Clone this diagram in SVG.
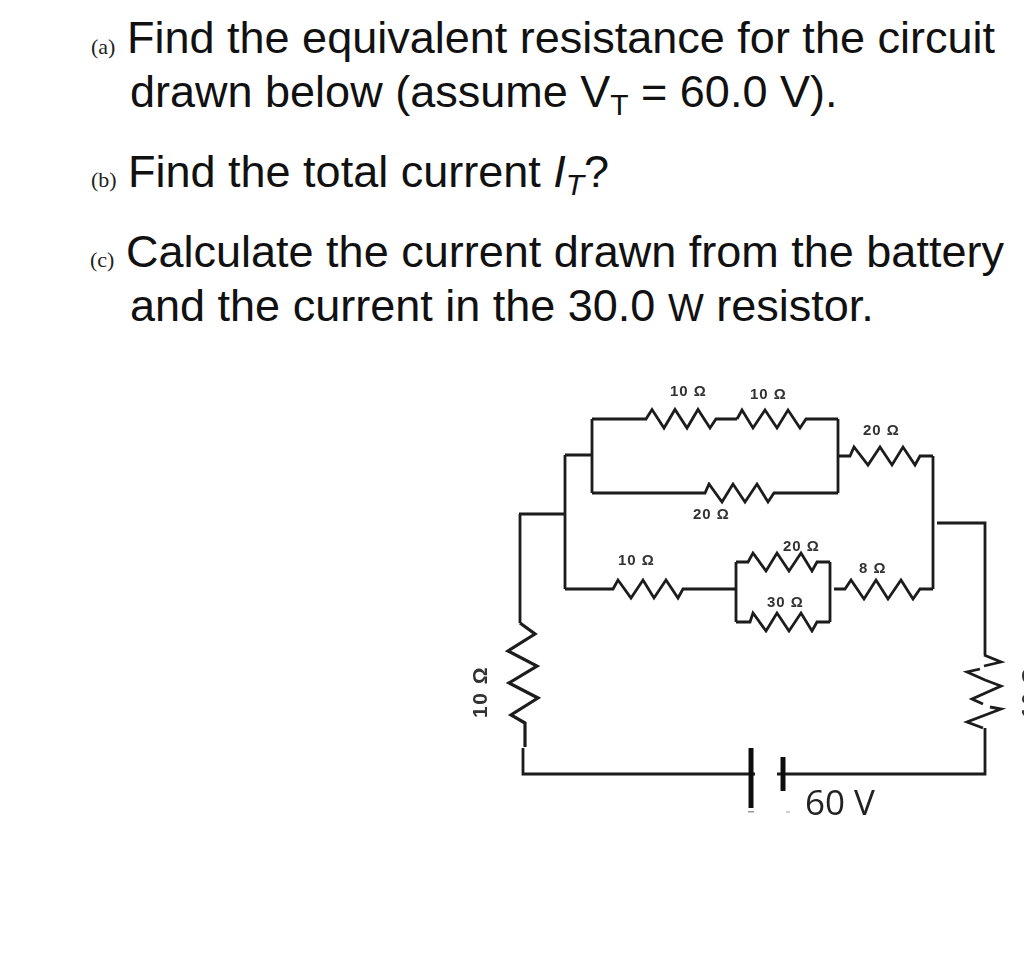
<svg xmlns="http://www.w3.org/2000/svg" width="1024" height="966" viewBox="0 0 1024 966">
<style>
.q{font-family:"Liberation Sans",Arial,sans-serif;font-size:45px;fill:#111}
.t{font-family:"Liberation Serif","Times New Roman",serif;font-size:22px;fill:#222}
.l{font-family:"Liberation Sans",Arial,sans-serif;font-size:15px;font-weight:bold;letter-spacing:1px;fill:#333}
.r{font-size:21px;letter-spacing:1.500px}
.w{fill:none;stroke:#1c1c1c;stroke-width:2.800;stroke-linejoin:miter}
.m{fill:#999}
</style>
<defs><filter id="soft" x="-5%" y="-5%" width="110%" height="110%"><feGaussianBlur stdDeviation="0.45"/></filter></defs>
<rect width="1024" height="966" fill="#fff"/>
<g id="questions">
<text class="t" x="91" y="54">(a)</text>
<text class="q" x="127" y="53">Find the equivalent resistance for the circuit</text>
<text class="q" x="130" y="107">drawn below (assume V<tspan font-size="30" dy="8">T</tspan><tspan dy="-8"> = 60.0 V).</tspan></text>
<text class="t" x="91" y="187">(b)</text>
<text class="q" x="128" y="187">Find the total current <tspan font-style="italic">I</tspan><tspan font-style="italic" font-size="30" dy="8">T</tspan><tspan dy="-8">?</tspan></text>
<text class="t" x="90" y="267">(c)</text>
<text class="q" x="126" y="267">Calculate the current drawn from the battery</text>
<text class="q" x="130" y="321">and the current in the 30.0 <tspan font-size="38">W</tspan> resistor.</text>
</g>
<g id="connectors" filter="url(#soft)">
<path class="w" d="M565 455H592M592 419V493"/>
<path class="w" d="M838 419V493"/>
<path class="w" d="M933 456V589M937 523H985V655"/>
<path class="w" d="M565 455V589M519 514H565M520 514V623"/>
<path class="w" d="M523 748V774H755M777 774H985V728"/>
<path class="w" d="M736 562V622M830 562V622"/>
</g>
<g id="r1" filter="url(#soft)"><path class="w" d="M592 419H646L652 409.500L664 428L675 409.500L687 428L698 409.500L710 428L716 419H737"/><text class="l" x="670" y="396">10 Ω</text></g>
<g id="r2" filter="url(#soft)"><path class="w" d="M737 419L742 410L753 428L765 410L777 428L788 410L800 428L806 419H838"/><text class="l" x="750" y="399">10 Ω</text></g>
<g id="r3" filter="url(#soft)"><path class="w" d="M592 493H705L709 484L722 502L733 484L745 502L757 484L768 502L774 493H838"/><text class="l" x="693" y="519">20 Ω</text></g>
<g id="r4" filter="url(#soft)"><path class="w" d="M838 456H850L854 447L868 465L880 447L892 465L903 447L915 465L920 456H933"/><text class="l" x="863" y="435">20 Ω</text></g>
<g id="r5" filter="url(#soft)"><path class="w" d="M565 589H613L618 580L631 598L643 580L654 598L666 580L678 598L683 589H736"/><text class="l" x="618" y="565">10 Ω</text></g>
<g id="r6" filter="url(#soft)"><path class="w" d="M736 562H748L753 553L766 571L777 553L789 571L801 553L812 571L817 562H830"/><text class="l" x="783" y="551">20 Ω</text></g>
<g id="r7" filter="url(#soft)"><path class="w" d="M736 622H750L753 613L766 631L777 613L789 631L801 613L812 631L817 622H830"/><text class="l" x="767" y="607">30 Ω</text></g>
<g id="r8" filter="url(#soft)"><path class="w" d="M834 589H845L851 580L864 599L876 580L888 599L901 580L913 599L920 589H933"/><text class="l" x="859" y="573">8 Ω</text></g>
<g id="r9" filter="url(#soft)"><path class="w" style="stroke-width:3.200" d="M520 623L535 634L508 651L537 666L509 683L538 698L511 715L525 723V747"/><text class="l r" transform="translate(487 718) rotate(-90)">10 Ω</text></g>
<g id="r10" filter="url(#soft)"><path class="w" d="M984 655L1001 662L984 666M980 669L967 672L985 680L1001 686L972 699L983 704M990 707L1001 709L967 722L983 728"/><text class="l r" transform="translate(1036 718) rotate(-90)">10 Ω</text></g>
<g id="battery" filter="url(#soft)">
<rect x="748.500" y="748" width="5" height="60" fill="#111"/>
<rect x="780.500" y="757" width="5" height="34" fill="#111"/>
<rect class="m" x="748" y="811" width="6" height="1.500"/>
<rect class="m" x="786" y="811.500" width="4" height="1"/>
<text x="805" y="815" font-family="Open Sans,sans-serif" font-size="35" fill="#222">60 V</text>
</g>
</svg>
